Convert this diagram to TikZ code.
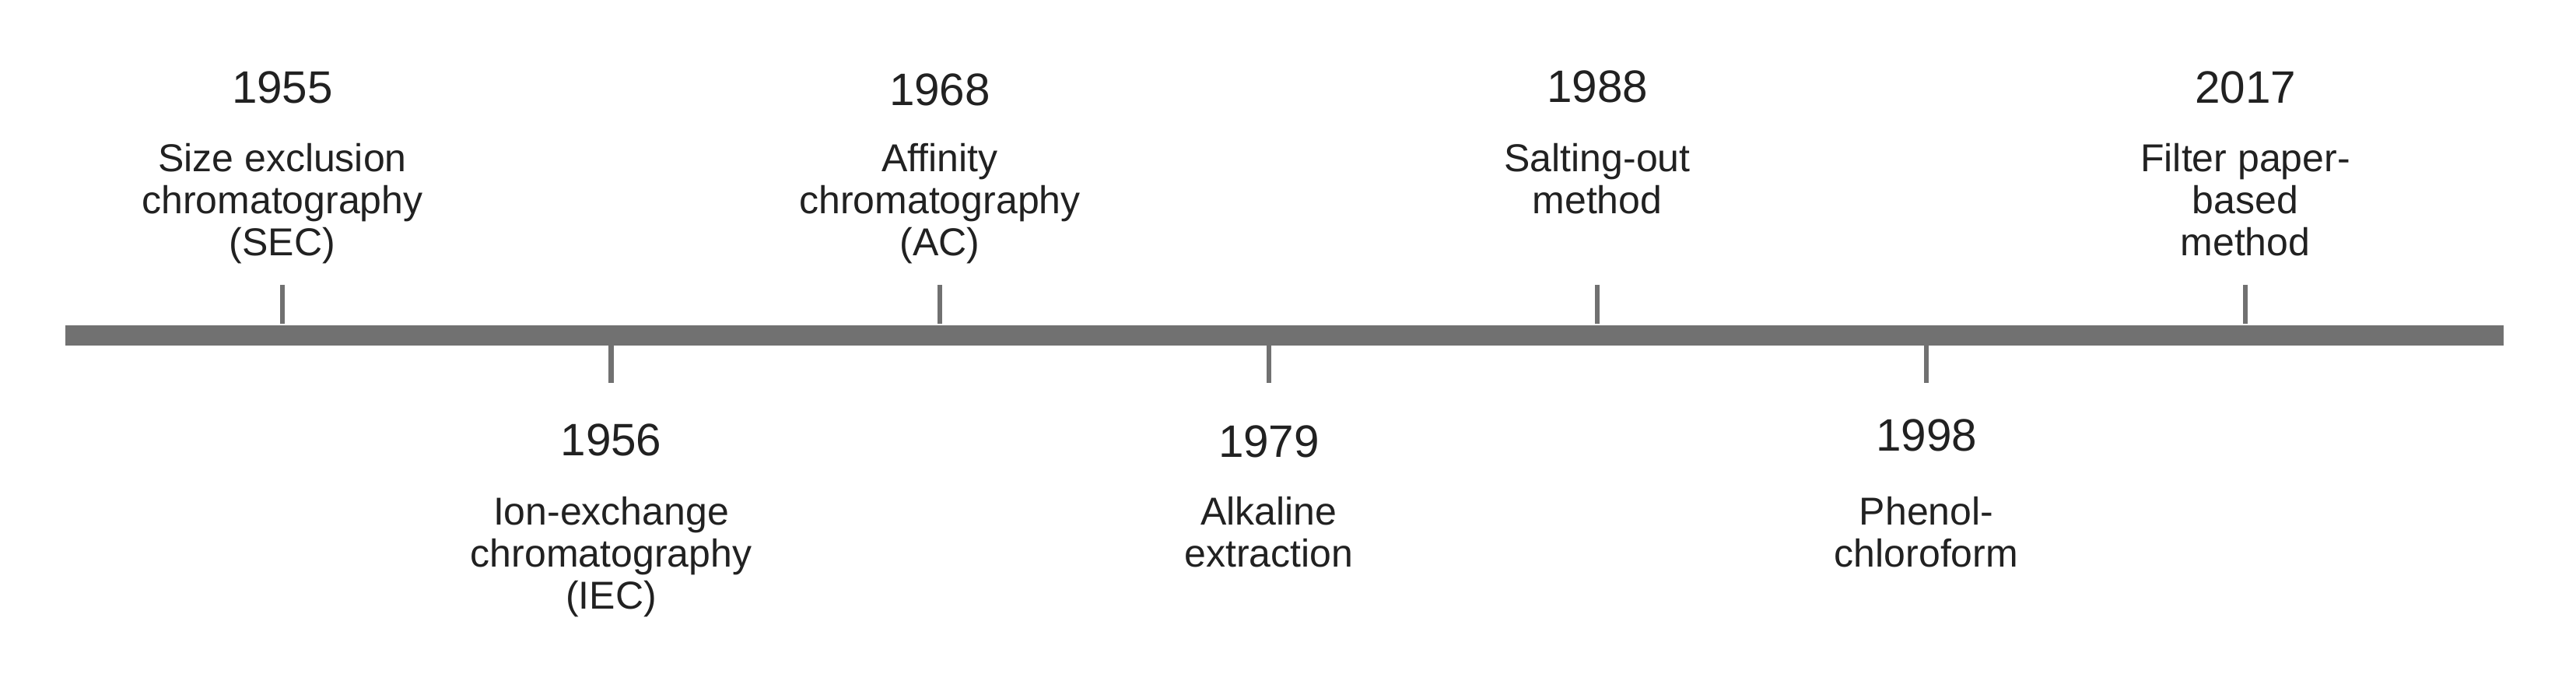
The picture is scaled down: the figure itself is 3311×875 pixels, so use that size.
\documentclass[tikz,border=0pt]{standalone}
\usepackage{fontspec}
\setmainfont{Liberation Sans}
\usepackage{tikz}
\usetikzlibrary{positioning}

\definecolor{bargray}{RGB}{113,113,113}
\definecolor{ink}{RGB}{33,33,33}

\tikzset{
  bar/.style={fill=bargray,draw=none},
  tick/.style={draw=bargray,line width=1.6pt},
  year/.style={anchor=base,inner sep=0pt,text=ink,font=\fontsize{14.6}{16}\selectfont},
  what/.style={anchor=base,inner sep=0pt,align=center,text=ink,font=\fontsize{12.5}{13.6}\selectfont},
}

\begin{document}
\begin{tikzpicture}[x=0.25pt,y=-0.25pt]
      \useasboundingbox (0,0) rectangle (3311,875);
      \fill[bar] (84,418) rectangle (3218,444);

      % ticks above the bar
      \coordinate (a1) at (363,366);    \coordinate (b1) at (363,416);
      \coordinate (a3) at (1208,366);   \coordinate (b3) at (1208,416);
      \coordinate (a5) at (2053,366);   \coordinate (b5) at (2053,416);
      \coordinate (a7) at (2886,366);   \coordinate (b7) at (2886,416);
      % ticks below the bar
      \coordinate (a2) at (785.5,444);  \coordinate (b2) at (785.5,492);
      \coordinate (a4) at (1631,444);   \coordinate (b4) at (1631,492);
      \coordinate (a6) at (2476,444);   \coordinate (b6) at (2476,492);

      \draw[tick] (a1) -- (b1);
      \draw[tick] (a2) -- (b2);
      \draw[tick] (a3) -- (b3);
      \draw[tick] (a4) -- (b4);
      \draw[tick] (a5) -- (b5);
      \draw[tick] (a6) -- (b6);
      \draw[tick] (a7) -- (b7);

      % base of a text block is its last line
      \node[year] (1) at (363,133) {1955};
      \node[what] (1t) at (363,329) {Size exclusion\\chromatography\\(SEC)};
      \node[year] (2) at (785.5,586) {1956};
      \node[what] (2t) at (785.5,783) {Ion-exchange\\chromatography\\(IEC)};
      \node[year] (3) at (1208,136) {1968};
      \node[what] (3t) at (1208,329) {Affinity\\chromatography\\(AC)};
      \node[year] (4) at (1631,588) {1979};
      \node[what] (4t) at (1631,728.5) {Alkaline\\extraction};
      \node[year] (5) at (2053,132) {1988};
      \node[what] (5t) at (2053,274.5) {Salting-out\\method};
      \node[year] (6) at (2476,580) {1998};
      \node[what] (6t) at (2476,728.5) {Phenol-\\chloroform};
      \node[year] (7) at (2886,133) {2017};
      \node[what] (7t) at (2886,329) {Filter paper-\\based\\method};
    \end{tikzpicture}
\end{document}
